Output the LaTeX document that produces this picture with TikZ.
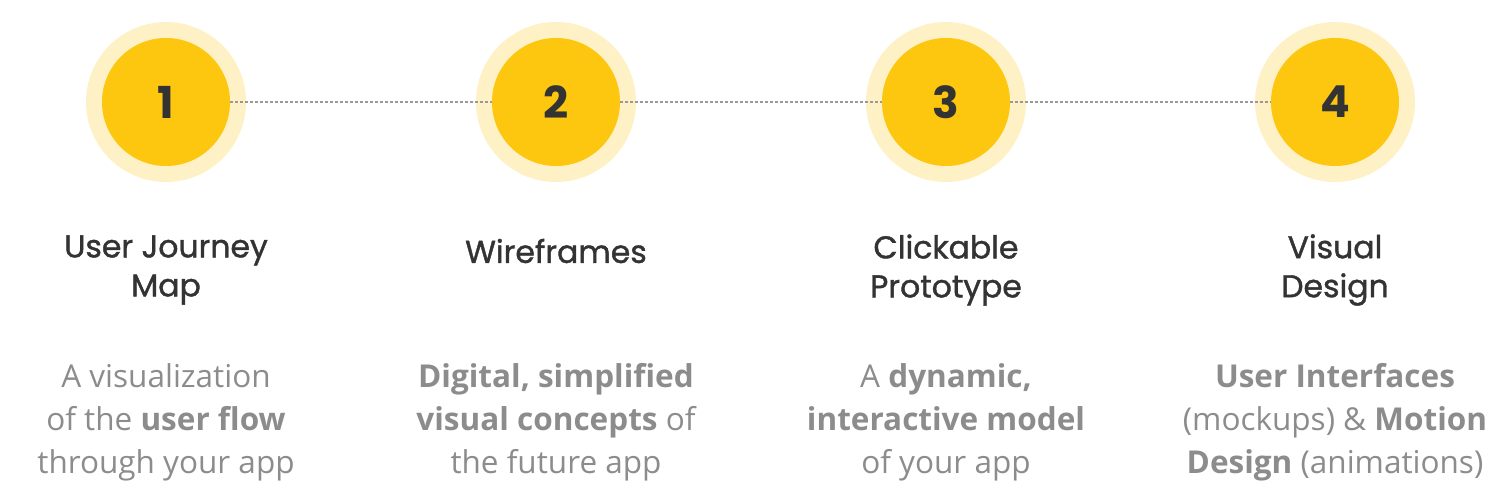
\documentclass[tikz,border=0pt]{standalone}
\usepackage{fontspec}
\setmainfont{Open Sans}
\newfontfamily\geo{Poppins}
\newfontfamily\geom[FakeBold=1.2]{Poppins}
\begin{document}
\begin{tikzpicture}[x=1pt,y=1pt,
  outer/.style={circle,fill=lighty,draw=none,minimum size=160pt},
  inner/.style={circle,fill=ystep,minimum size=128pt,font=\geo\fontsize{44}{44}\selectfont\bfseries,text=darktxt},
  ttl/.style={align=center,font=\geom\fontsize{31.5}{39}\selectfont,text=darktxt},
  dsc/.style={align=center,font=\fontsize{31.5}{43}\selectfont,text=graytxt},
  conn/.style={densely dashed,draw=gray!80,line width=1.3pt}]
\definecolor{ystep}{HTML}{FDC60F}
\definecolor{darktxt}{HTML}{333333}
\definecolor{graytxt}{HTML}{8C8C8C}
\definecolor{lighty}{HTML}{FFF1C6}
\useasboundingbox (0,0) rectangle (1500,503);
\foreach \i/\x in {1/166,2/556,3/946,4/1335}{
  \node[outer] (o\i) at (\x,401) {};
  \node[inner] (c\i) at (\x,401) {\i};
}
\draw[conn] (c1.east) -- (c2.west);
\draw[conn] (c2.east) -- (c3.west);
\draw[conn] (c3.east) -- (c4.west);
\node[ttl] (t1) at (166,233) {User Journey\\Map};
\node[ttl] (t2) at (556,252) {Wireframes};
\node[ttl] (t3) at (946,233) {Clickable\\Prototype};
\node[ttl] (t4) at (1335,233) {Visual\\Design};
\node[dsc] (d1) at (166,81) {A visualization\\of the \textbf{user flow}\\through your app};
\node[dsc] (d2) at (556,81) {\textbf{Digital, simplified}\\\textbf{visual concepts} of\\the future app};
\node[dsc] (d3) at (946,81) {A \textbf{dynamic,}\\\textbf{interactive model}\\of your app};
\node[dsc] (d4) at (1335,81) {\textbf{User Interfaces}\\(mockups) \& \textbf{Motion}\\\textbf{Design} (animations)};
\end{tikzpicture}
\end{document}
